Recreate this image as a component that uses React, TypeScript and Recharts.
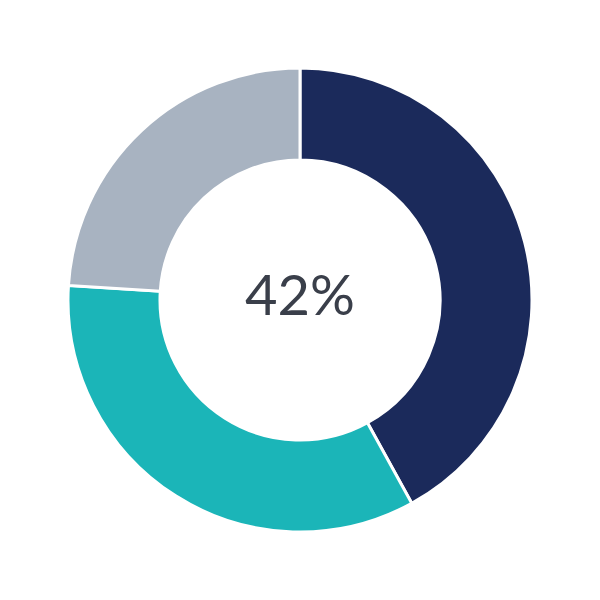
import React from 'react';
import { PieChart, Pie, Cell } from 'recharts';

const segments = ['Primary', 'Secondary', 'Other'];
const shares = [42, 34, 24];
const colors = ['#1b2a5b', '#1bb5b8', '#a8b3c1'];
const centerLabel = '42%';

const data = segments.map((name, i) => ({ name, value: shares[i] }));

export default function App() {
  return (
    <div style={{ width: 600, height: 600, margin: -8 }}>
      <PieChart width={600} height={600} margin={{ top: 0, right: 0, bottom: 0, left: 0 }}>
        <Pie
          data={data}
          dataKey="value"
          nameKey="name"
          cx={300}
          cy={300}
          innerRadius={140}
          outerRadius={232}
          startAngle={90}
          endAngle={-270}
          stroke="#ffffff"
          strokeWidth={3}
          isAnimationActive={false}
        >
          {data.map((d, i) => (
            <Cell key={d.name} fill={colors[i]} />
          ))}
        </Pie>
        <text
          x={300}
          y={315}
          textAnchor="middle"
          fontFamily="Lato, sans-serif"
          fontSize={56}
          fill="#3a3f4a"
        >
          {centerLabel}
        </text>
      </PieChart>
    </div>
  );
}
